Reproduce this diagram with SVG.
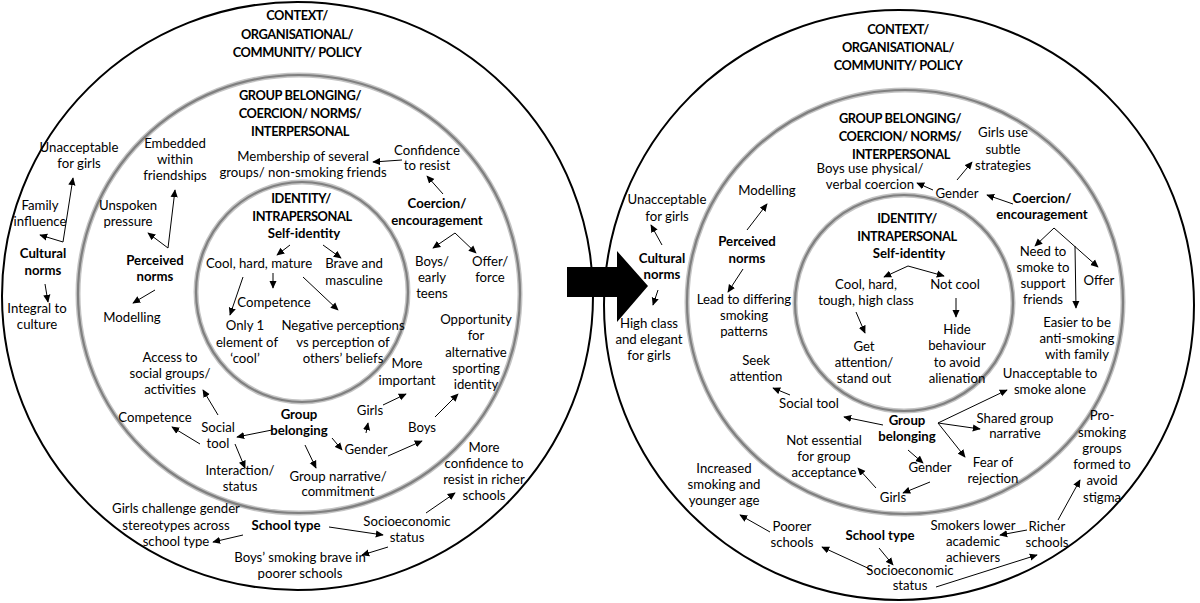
<svg xmlns="http://www.w3.org/2000/svg" width="1200" height="603" viewBox="0 0 1200 603">
<style>
.t{font-family:Lato,"Open Sans","Liberation Sans",sans-serif;font-size:13.2px;text-anchor:middle;fill:#000}
.b{font-weight:bold}
.h{font-weight:bold;font-size:12.8px;letter-spacing:-0.4px}
.outer{fill:none;stroke:#000;stroke-width:2}
.ringw{fill:none;stroke:#c4c4c4;stroke-width:5}
.ring{fill:none;stroke:#808080;stroke-width:2.2}
.c{fill:none;stroke:#000;stroke-width:1;marker-end:url(#ah)}
</style>
<defs>
<marker id="ah" viewBox="0 0 10 10" refX="9" refY="5" markerWidth="8" markerHeight="8" markerUnits="userSpaceOnUse" orient="auto">
<path d="M0,0.5 L10,5 L0,9.5 z" fill="#000"/>
</marker>
</defs>
<rect width="1200" height="603" fill="#fff"/>

<g id="left-rings">
<ellipse class="outer" cx="297.5" cy="296" rx="295.5" ry="294"/>
<ellipse class="ringw" cx="299" cy="294" rx="221" ry="219"/>
<ellipse class="ring" cx="299" cy="294" rx="221" ry="219"/>
<ellipse class="ringw" cx="302" cy="292" rx="106" ry="110"/>
<ellipse class="ring" cx="302" cy="292" rx="106" ry="110"/>
</g>
<g id="right-rings">
<ellipse class="outer" cx="899" cy="305" rx="295" ry="295"/>
<ellipse class="ringw" cx="905" cy="302" rx="218" ry="212"/>
<ellipse class="ring" cx="905" cy="302" rx="218" ry="212"/>
<ellipse class="ringw" cx="904" cy="303" rx="109" ry="108"/>
<ellipse class="ring" cx="904" cy="303" rx="109" ry="108"/>
</g>

<g id="big-arrow"><polygon points="567,267 617,267 617,251 648,286 617,322 617,297 567,297" fill="#000"/></g>

<g id="connectors">
<line class="c" x1="402" y1="160" x2="373" y2="162"/>
<line class="c" x1="443" y1="194" x2="427" y2="176"/>
<line class="c" x1="455" y1="233" x2="433" y2="248"/>
<line class="c" x1="455" y1="233" x2="476" y2="253"/>
<line class="c" x1="168" y1="248" x2="148" y2="233"/>
<line class="c" x1="168" y1="248" x2="175" y2="190"/>
<line class="c" x1="155" y1="290" x2="133" y2="303"/>
<line class="c" x1="63" y1="242" x2="40" y2="235"/>
<line class="c" x1="63" y1="242" x2="73" y2="178"/>
<line class="c" x1="45" y1="284" x2="48" y2="302"/>
<line class="c" x1="290" y1="245" x2="277" y2="255"/>
<line class="c" x1="323" y1="245" x2="341" y2="258"/>
<line class="c" x1="273" y1="273" x2="273" y2="288"/>
<line class="c" x1="243" y1="277" x2="230" y2="315"/>
<line class="c" x1="303" y1="277" x2="338" y2="310"/>
<line class="c" x1="218" y1="415" x2="203" y2="390"/>
<line class="c" x1="200" y1="444" x2="172" y2="427"/>
<line class="c" x1="235" y1="444" x2="245" y2="468"/>
<line class="c" x1="272" y1="430" x2="237" y2="437"/>
<line class="c" x1="332" y1="438" x2="342" y2="450"/>
<line class="c" x1="305" y1="445" x2="316" y2="468"/>
<line class="c" x1="366" y1="433" x2="368" y2="423"/>
<line class="c" x1="383" y1="405" x2="406" y2="394"/>
<line class="c" x1="388" y1="456" x2="422" y2="441"/>
<line class="c" x1="435" y1="417" x2="458" y2="394"/>
<line class="c" x1="426" y1="513" x2="455" y2="493"/>
<line class="c" x1="329" y1="527" x2="383" y2="535"/>
<line class="c" x1="388" y1="547" x2="362" y2="555"/>
<line class="c" x1="243" y1="535" x2="213" y2="542"/>

<line class="c" x1="933" y1="190" x2="917" y2="183"/>
<line class="c" x1="957" y1="180" x2="972" y2="162"/>
<line class="c" x1="1013" y1="204" x2="987" y2="195"/>
<line class="c" x1="1054" y1="228" x2="1035" y2="246"/>
<line class="c" x1="1054" y1="228" x2="1098" y2="267"/>
<line class="c" x1="1075" y1="246" x2="1076" y2="308"/>
<line class="c" x1="662" y1="245" x2="651" y2="225"/>
<line class="c" x1="658" y1="290" x2="653" y2="305"/>
<line class="c" x1="747" y1="230" x2="767" y2="204"/>
<line class="c" x1="743" y1="269" x2="728" y2="292"/>
<line class="c" x1="908" y1="266" x2="884" y2="277"/>
<line class="c" x1="908" y1="266" x2="944" y2="276"/>
<line class="c" x1="956" y1="298" x2="956" y2="317"/>
<line class="c" x1="856" y1="312" x2="865" y2="333"/>
<line class="c" x1="790" y1="395" x2="773" y2="388"/>
<line class="c" x1="883" y1="425" x2="844" y2="417"/>
<line class="c" x1="938" y1="423" x2="1007" y2="390"/>
<line class="c" x1="938" y1="423" x2="980" y2="429"/>
<line class="c" x1="938" y1="423" x2="965" y2="457"/>
<line class="c" x1="908" y1="450" x2="923" y2="463"/>
<line class="c" x1="930" y1="482" x2="903" y2="493"/>
<line class="c" x1="876" y1="488" x2="858" y2="468"/>
<line class="c" x1="770" y1="532" x2="740" y2="515"/>
<line class="c" x1="879" y1="548" x2="893" y2="565"/>
<line class="c" x1="872" y1="570" x2="822" y2="547"/>
<line class="c" x1="936" y1="587" x2="1037" y2="555"/>
<line class="c" x1="1027" y1="530" x2="1000" y2="535"/>
<line class="c" x1="1058" y1="520" x2="1080" y2="480"/>
</g>

<g id="L-context"><text class="t h"><tspan x="297" y="20">CONTEXT/</tspan><tspan x="297" y="38.5">ORGANISATIONAL/</tspan><tspan x="297" y="57">COMMUNITY/ POLICY</tspan></text></g>
<g id="L-group-title"><text class="t h"><tspan x="300" y="100">GROUP BELONGING/</tspan><tspan x="300" y="118">COERCION/ NORMS/</tspan><tspan x="300" y="136">INTERPERSONAL</tspan></text></g>
<g id="L-membership"><text class="t"><tspan x="303" y="161">Membership of several</tspan><tspan x="303" y="177">groups/ non-smoking friends</tspan></text></g>
<g id="L-confidence"><text class="t"><tspan x="427" y="155">Confidence</tspan><tspan x="427" y="170">to resist</tspan></text></g>
<g id="L-coercion"><text class="t b"><tspan x="437" y="208">Coercion/</tspan><tspan x="437" y="225">encouragement</tspan></text></g>
<g id="L-boys-early"><text class="t"><tspan x="432" y="266">Boys/</tspan><tspan x="432" y="282">early</tspan><tspan x="432" y="298">teens</tspan></text></g>
<g id="L-offer"><text class="t"><tspan x="490" y="266">Offer/</tspan><tspan x="490" y="282">force</tspan></text></g>
<g id="L-embedded"><text class="t"><tspan x="175" y="148">Embedded</tspan><tspan x="175" y="164">within</tspan><tspan x="175" y="180">friendships</tspan></text></g>
<g id="L-unspoken"><text class="t"><tspan x="128" y="210">Unspoken</tspan><tspan x="128" y="226">pressure</tspan></text></g>
<g id="L-perceived"><text class="t b"><tspan x="155" y="265">Perceived</tspan><tspan x="155" y="281">norms</tspan></text></g>
<g id="L-modelling"><text class="t" x="132" y="322">Modelling</text></g>
<g id="L-unacceptable"><text class="t"><tspan x="79" y="152">Unacceptable</tspan><tspan x="79" y="168">for girls</tspan></text></g>
<g id="L-family"><text class="t"><tspan x="40" y="210">Family</tspan><tspan x="40" y="226">influence</tspan></text></g>
<g id="L-cultural"><text class="t b"><tspan x="43" y="258">Cultural</tspan><tspan x="43" y="275">norms</tspan></text></g>
<g id="L-integral"><text class="t"><tspan x="37" y="313">Integral to</tspan><tspan x="37" y="329">culture</tspan></text></g>
<g id="L-identity"><text class="t h"><tspan x="301" y="203">IDENTITY/</tspan><tspan x="302" y="221">INTRAPERSONAL</tspan></text><text class="t b" x="304" y="238">Self-identity</text></g>
<g id="L-cool"><text class="t" x="259" y="268">Cool, hard, mature</text></g>
<g id="L-brave"><text class="t"><tspan x="354" y="268">Brave and</tspan><tspan x="354" y="285">masculine</tspan></text></g>
<g id="L-competence-in"><text class="t" x="274" y="307">Competence</text></g>
<g id="L-only1"><text class="t"><tspan x="245" y="330">Only 1</tspan><tspan x="247" y="347">element of</tspan><tspan x="245" y="363">‘cool’</tspan></text></g>
<g id="L-negative"><text class="t"><tspan x="343" y="330">Negative perceptions</tspan><tspan x="343" y="347">vs perception of</tspan><tspan x="343" y="363">others’ beliefs</tspan></text></g>
<g id="L-access"><text class="t"><tspan x="170" y="362">Access to</tspan><tspan x="170" y="378">social groups/</tspan><tspan x="170" y="394">activities</tspan></text></g>
<g id="L-competence-out"><text class="t" x="155" y="422">Competence</text></g>
<g id="L-social"><text class="t"><tspan x="218" y="432">Social</tspan><tspan x="218" y="448">tool</tspan></text></g>
<g id="L-interaction"><text class="t"><tspan x="240" y="475">Interaction/</tspan><tspan x="240" y="491">status</tspan></text></g>
<g id="L-group-belonging"><text class="t b"><tspan x="299" y="419">Group</tspan><tspan x="299" y="435">belonging</tspan></text></g>
<g id="L-gender"><text class="t" x="366" y="454">Gender</text></g>
<g id="L-narrative"><text class="t"><tspan x="338" y="481">Group narrative/</tspan><tspan x="338" y="496">commitment</tspan></text></g>
<g id="L-girls"><text class="t" x="370" y="415">Girls</text></g>
<g id="L-more-important"><text class="t"><tspan x="407" y="368">More</tspan><tspan x="407" y="385">important</tspan></text></g>
<g id="L-boys"><text class="t" x="422" y="432">Boys</text></g>
<g id="L-opportunity"><text class="t"><tspan x="476" y="324">Opportunity</tspan><tspan x="476" y="340">for</tspan><tspan x="476" y="357">alternative</tspan><tspan x="476" y="373">sporting</tspan><tspan x="476" y="389">identity</tspan></text></g>
<g id="L-more-confidence"><text class="t"><tspan x="484" y="452">More</tspan><tspan x="484" y="468">confidence to</tspan><tspan x="484" y="484">resist in richer</tspan><tspan x="484" y="500">schools</tspan></text></g>
<g id="L-socio"><text class="t"><tspan x="407" y="526">Socioeconomic</tspan><tspan x="407" y="542">status</tspan></text></g>
<g id="L-school"><text class="t b" x="286" y="530">School type</text></g>
<g id="L-girls-challenge"><text class="t"><tspan x="176" y="513">Girls challenge gender</tspan><tspan x="176" y="530">stereotypes across</tspan><tspan x="176" y="546">school type</tspan></text></g>
<g id="L-boys-smoking"><text class="t"><tspan x="300" y="562">Boys’ smoking brave in</tspan><tspan x="300" y="578">poorer schools</tspan></text></g>

<g id="R-context"><text class="t h"><tspan x="898" y="34">CONTEXT/</tspan><tspan x="898" y="52">ORGANISATIONAL/</tspan><tspan x="898" y="70">COMMUNITY/ POLICY</tspan></text></g>
<g id="R-group-title"><text class="t h"><tspan x="900" y="123">GROUP BELONGING/</tspan><tspan x="900" y="141">COERCION/ NORMS/</tspan><tspan x="901" y="159">INTERPERSONAL</tspan></text></g>
<g id="R-boys-use"><text class="t"><tspan x="870" y="173">Boys use physical/</tspan><tspan x="870" y="189">verbal coercion</tspan></text></g>
<g id="R-gender-top"><text class="t" x="957" y="198">Gender</text></g>
<g id="R-girls-use"><text class="t"><tspan x="1003" y="137">Girls use</tspan><tspan x="1003" y="154">subtle</tspan><tspan x="1003" y="170">strategies</tspan></text></g>
<g id="R-coercion"><text class="t b"><tspan x="1042" y="203">Coercion/</tspan><tspan x="1042" y="219">encouragement</tspan></text></g>
<g id="R-need"><text class="t"><tspan x="1043" y="256">Need to</tspan><tspan x="1043" y="272">smoke to</tspan><tspan x="1043" y="288">support</tspan><tspan x="1043" y="304">friends</tspan></text></g>
<g id="R-offer"><text class="t" x="1099" y="285">Offer</text></g>
<g id="R-easier"><text class="t"><tspan x="1077" y="327">Easier to be</tspan><tspan x="1077" y="343">anti-smoking</tspan><tspan x="1077" y="359">with family</tspan></text></g>
<g id="R-unacceptable"><text class="t"><tspan x="667" y="204">Unacceptable</tspan><tspan x="667" y="221">for girls</tspan></text></g>
<g id="R-cultural"><text class="t b"><tspan x="662" y="263">Cultural</tspan><tspan x="662" y="279">norms</tspan></text></g>
<g id="R-high-class"><text class="t"><tspan x="649" y="328">High class</tspan><tspan x="649" y="344">and elegant</tspan><tspan x="649" y="360">for girls</tspan></text></g>
<g id="R-modelling"><text class="t" x="767" y="195">Modelling</text></g>
<g id="R-perceived"><text class="t b"><tspan x="747" y="246">Perceived</tspan><tspan x="747" y="263">norms</tspan></text></g>
<g id="R-lead"><text class="t"><tspan x="744" y="304">Lead to differing</tspan><tspan x="744" y="320">smoking</tspan><tspan x="744" y="336">patterns</tspan></text></g>
<g id="R-identity"><text class="t h"><tspan x="907" y="223">IDENTITY/</tspan><tspan x="907" y="241">INTRAPERSONAL</tspan></text><text class="t b" x="909" y="258">Self-identity</text></g>
<g id="R-cool"><text class="t"><tspan x="866" y="289">Cool, hard,</tspan><tspan x="866" y="305">tough, high class</tspan></text></g>
<g id="R-not-cool"><text class="t" x="955" y="289">Not cool</text></g>
<g id="R-get-attention"><text class="t"><tspan x="864" y="351">Get</tspan><tspan x="864" y="367">attention/</tspan><tspan x="864" y="383">stand out</tspan></text></g>
<g id="R-hide"><text class="t"><tspan x="957" y="334">Hide</tspan><tspan x="957" y="350">behaviour</tspan><tspan x="957" y="367">to avoid</tspan><tspan x="957" y="383">alienation</tspan></text></g>
<g id="R-seek"><text class="t"><tspan x="756" y="365">Seek</tspan><tspan x="756" y="381">attention</tspan></text></g>
<g id="R-social"><text class="t" x="809" y="408">Social tool</text></g>
<g id="R-group-belonging"><text class="t b"><tspan x="907" y="425">Group</tspan><tspan x="907" y="441">belonging</tspan></text></g>
<g id="R-smoke-alone"><text class="t"><tspan x="1050" y="378">Unacceptable to</tspan><tspan x="1050" y="394">smoke alone</tspan></text></g>
<g id="R-shared"><text class="t"><tspan x="1015" y="423">Shared group</tspan><tspan x="1015" y="438">narrative</tspan></text></g>
<g id="R-fear"><text class="t"><tspan x="993" y="467">Fear of</tspan><tspan x="993" y="483">rejection</tspan></text></g>
<g id="R-gender"><text class="t" x="930" y="472">Gender</text></g>
<g id="R-girls"><text class="t" x="893" y="502">Girls</text></g>
<g id="R-not-essential"><text class="t"><tspan x="824" y="445">Not essential</tspan><tspan x="824" y="461">for group</tspan><tspan x="824" y="477">acceptance</tspan></text></g>
<g id="R-increased"><text class="t"><tspan x="724" y="473">Increased</tspan><tspan x="724" y="489">smoking and</tspan><tspan x="724" y="505">younger age</tspan></text></g>
<g id="R-poorer"><text class="t"><tspan x="792" y="531">Poorer</tspan><tspan x="792" y="547">schools</tspan></text></g>
<g id="R-school"><text class="t b" x="880" y="540">School type</text></g>
<g id="R-socio"><text class="t"><tspan x="910" y="575">Socioeconomic</tspan><tspan x="910" y="590">status</tspan></text></g>
<g id="R-richer"><text class="t"><tspan x="1047" y="531">Richer</tspan><tspan x="1047" y="547">schools</tspan></text></g>
<g id="R-smokers-lower"><text class="t"><tspan x="973" y="530">Smokers lower</tspan><tspan x="973" y="546">academic</tspan><tspan x="973" y="562">achievers</tspan></text></g>
<g id="R-pro-smoking"><text class="t"><tspan x="1102" y="420">Pro-</tspan><tspan x="1102" y="437">smoking</tspan><tspan x="1102" y="453">groups</tspan><tspan x="1102" y="469">formed to</tspan><tspan x="1102" y="485">avoid</tspan><tspan x="1102" y="502">stigma</tspan></text></g>
</svg>
